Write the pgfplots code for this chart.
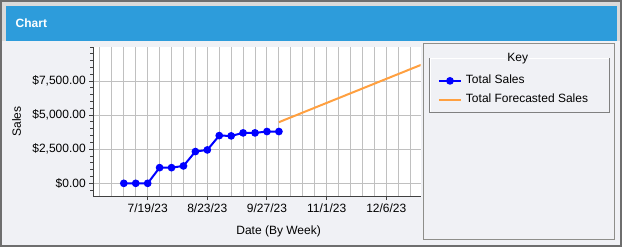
\documentclass[border=0pt]{standalone}
\usepackage{fontspec}
\setmainfont{Liberation Sans}
\usepackage{pgfplots}
\pgfplotsset{compat=1.18}
\definecolor{bg}{HTML}{F0F1F5}
\definecolor{hdr}{HTML}{2D9CDB}
\definecolor{outer}{HTML}{6E6E6E}
\definecolor{strip}{HTML}{DADADA}
\definecolor{gridc}{HTML}{C0C0C0}
\definecolor{fc}{HTML}{FFA040}
\definecolor{panel}{HTML}{8E8E8A}
\definecolor{axc}{HTML}{404040}
\begin{document}
\begin{tikzpicture}[x=1pt,y=1pt]
\useasboundingbox (0,0) rectangle (622,247);
\fill[bg] (0,0) rectangle (622,247);
\fill[strip] (0,206) rectangle (622,247);
\fill[hdr] (6,206) rectangle (617,241);
\node[anchor=west, inner sep=0pt, text=white, font=\bfseries\fontsize{12}{14}\selectfont] at (15.5,223.5) {Chart};
\draw[outer, line width=2pt] (1,1) rectangle (621,246);
% legend panel
\draw[panel, line width=1pt] (423.5,203) rectangle (614.3,7.7);
% key box (etched)
\draw[white, line width=1pt] (430,134) -- (430,188.7) -- (609,188.7);
\draw[gray, line width=1pt] (429,188.7) -- (429,134.7) -- (609,134.7) -- (609,188.7);
\node[fill=bg, inner sep=1pt, font=\fontsize{12}{14}\selectfont] at (517.7,188.5) {Key};
\begin{axis}[
  at={(93.3pt,51pt)}, anchor=south west,
  scale only axis, width=327.4pt, height=149pt,
  xmin=-31.9, xmax=160.2, ymin=-930, ymax=10000,
  scaled y ticks=false,
  axis x line*=bottom, axis y line*=left,
  axis line style={axc, line width=1pt},
  axis background/.style={fill=white},
  xtick={0,35,70,105,140},
  xticklabels={7/19/23,8/23/23,9/27/23,11/1/23,12/6/23},
  minor xtick={-28,-21,...,154},
  ytick={0,2500,5000,7500},
  yticklabels={\$0.00,{\$2,500.00},{\$5,000.00},{\$7,500.00}},
  minor ytick={-500,500,1000,1500,2000,3000,3500,4000,4500,5500,6000,6500,7000,8000,8500,9000,9500,10000},
  xmajorgrids, xminorgrids, ymajorgrids, yminorgrids=false,
  grid style={gridc, line width=1pt},
  minor grid style={gridc, line width=1pt},
  tick align=outside,
  major tick length=4pt, minor tick length=3pt,
  tick style={axc, line width=1pt},
  minor x tick style={draw=none},
  ticklabel style={font=\fontsize{12}{14}\selectfont},
  label style={font=\fontsize{12}{14}\selectfont},
  xlabel={Date (By Week)}, ylabel={Sales},
  xlabel style={at={(axis description cs:0.566,-0.235)}, anchor=center},
  ylabel style={at={(axis description cs:-0.234,0.5)}, anchor=center},
  legend style={at={(axis description cs:1.0528,0.813)}, anchor=north west,
    draw=none, fill=none, inner sep=0pt, outer sep=0pt, row sep=6.8pt, column sep=4pt,
    nodes={inner sep=0pt, text height=9pt, text depth=3pt, font=\fontsize{12}{14}\selectfont}},
  legend cell align=left,
  legend image code/.code={\draw[mark repeat=2,mark phase=2,#1] plot coordinates {(0pt,0pt) (11pt,0pt) (22pt,0pt)};},
]
\addplot[blue, line width=2pt, mark=*, mark size=2.8pt, mark options={fill=blue}] coordinates {
(-14,0) (-7,0) (0,0) (7,1150) (14,1150) (21,1275) (28,2330) (35,2450)
(42,3500) (49,3480) (56,3700) (63,3700) (70,3800) (77,3800)};
\addplot[fc, line width=2pt, no marks] coordinates {(77,4485) (161,8720)};
\legend{Total Sales, Total Forecasted Sales}
\end{axis}
\end{tikzpicture}
\end{document}
